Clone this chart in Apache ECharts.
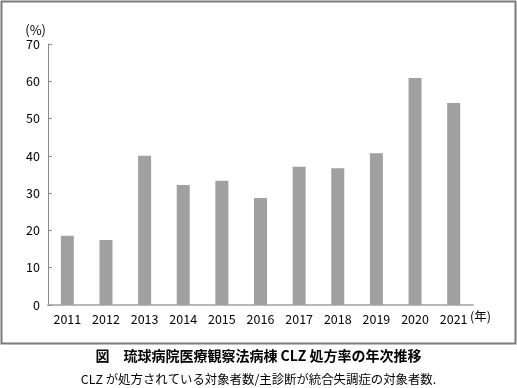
<!DOCTYPE html>
<html><head><meta charset="utf-8">
<script src="https://cdn.jsdelivr.net/npm/echarts@6/dist/echarts.min.js"></script>
<style>html,body{margin:0;padding:0;background:#fff}#c{width:517px;height:388px}</style>
</head><body><div id="c"></div>
<script>
const years = ['2011','2012','2013','2014','2015','2016','2017','2018','2019','2020','2021'];
const rates = [18.6, 17.4, 40.0, 32.2, 33.3, 28.7, 37.1, 36.7, 40.7, 60.9, 54.2];
const yTicks = [0, 10, 20, 30, 40, 50, 60, 70];
const titleText = '図　琉球病院医療観察法病棟 CLZ 処方率の年次推移';
const noteText = 'CLZ が処方されている対象者数/主診断が統合失調症の対象者数.';
const FONT = '"Noto Sans CJK JP", "Noto Sans", sans-serif';
const chart = echarts.init(document.getElementById('c'), null, {renderer: 'canvas'});
chart.setOption({
  animation: false,
  textStyle: {fontFamily: FONT},
  grid: {left: 48, top: 44, width: 425, height: 261, containLabel: false},
  xAxis: {
    type: 'category', data: years,
    axisLine: {lineStyle: {color: '#b8b8b8', width: 2}},
    axisTick: {show: false},
    axisLabel: {color: '#000', fontSize: 12.5, margin: 8, fontFamily: FONT}
  },
  yAxis: {
    type: 'value', min: yTicks[0], max: yTicks[yTicks.length-1], interval: 10,
    name: '(%)', nameLocation: 'end', nameGap: 7,
    nameTextStyle: {color: '#000', fontSize: 13, align: 'right', padding: [0, 2, 0, 0], fontFamily: FONT},
    axisLine: {show: true, lineStyle: {color: '#888', width: 1}},
    axisTick: {show: true, inside: true, length: 4, lineStyle: {color: '#888'}},
    splitLine: {show: false},
    axisLabel: {color: '#000', fontSize: 12.5, margin: 8, fontFamily: FONT}
  },
  series: [{
    type: 'bar', data: rates, barWidth: 13,
    itemStyle: {color: '#a0a0a0'}
  }],
  graphic: [
    {type: 'rect', shape: {x: 1.5, y: 1.5, width: 514, height: 342}, style: {fill: 'none', stroke: '#7a7a7a', lineWidth: 2}, silent: true},
    {type: 'text', left: 470, top: 310, style: {text: '(年)', fill: '#000', font: '12.5px ' + FONT}},
    {type: 'text', left: 'center', top: 349, style: {text: titleText, fill: '#000', font: 'bold 14px ' + FONT}},
    {type: 'text', left: 'center', top: 373, style: {text: noteText, fill: '#000', font: '12.4px ' + FONT}}
  ]
});
</script></body></html>
